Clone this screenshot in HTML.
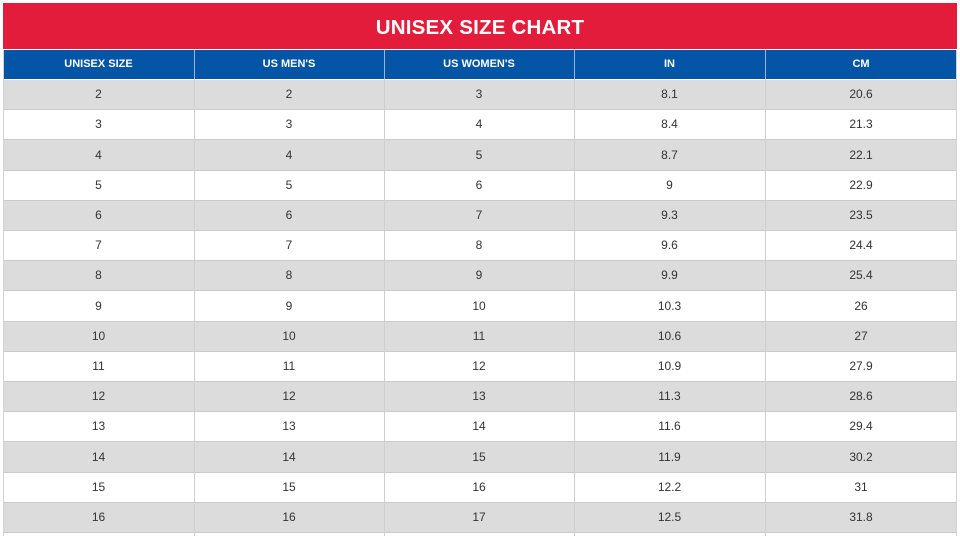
<!DOCTYPE html>
<html><head><meta charset="utf-8"><style>
html,body{margin:0;padding:0;background:#fff;}
body{width:960px;height:536px;position:relative;overflow:hidden;font-family:"Liberation Sans",Arial,sans-serif;}
.title{position:absolute;left:3px;top:3px;width:954px;height:46px;background:#e31c3b;color:#fff;font-weight:bold;font-size:20.5px;line-height:50px;text-align:center;letter-spacing:0.2px;}
.r{position:absolute;left:3px;width:954px;display:flex;box-sizing:border-box;border-bottom:1px solid #cbcbcb;}
.r div{text-align:center;font-size:12px;color:#333;}
.r div:nth-child(1){width:191px}.r div:nth-child(2){width:190px}.r div:nth-child(3){width:190px}.r div:nth-child(4){width:191px}.r div:nth-child(5){width:192px}
.g{background:#dcdcdc;}
.w{background:#fff;}
.h{background:#0455a5;border-bottom:none;top:50px;height:29px;}
.h div{color:#fff !important;font-weight:bold;font-size:11px !important;line-height:29px;}
.vl{position:absolute;top:79px;height:457px;width:1.5px;background:#cfcfcf;}
.vh{position:absolute;top:50px;height:29px;width:1.5px;background:#9bb3d6;}
.el{position:absolute;top:50px;height:486px;width:1px;background:#d3d3d3;}
</style></head><body>
<div class="title">UNISEX SIZE CHART</div>
<div class="r h"><div>UNISEX SIZE</div><div>US MEN'S</div><div>US WOMEN'S</div><div>IN</div><div>CM</div></div>
<div class="r g" style="top:80px;height:30px;line-height:29px"><div>2</div><div>2</div><div>3</div><div>8.1</div><div>20.6</div></div>
<div class="r w" style="top:110px;height:30px;line-height:29px"><div>3</div><div>3</div><div>4</div><div>8.4</div><div>21.3</div></div>
<div class="r g" style="top:140px;height:31px;line-height:30px"><div>4</div><div>4</div><div>5</div><div>8.7</div><div>22.1</div></div>
<div class="r w" style="top:171px;height:30px;line-height:29px"><div>5</div><div>5</div><div>6</div><div>9</div><div>22.9</div></div>
<div class="r g" style="top:201px;height:30px;line-height:29px"><div>6</div><div>6</div><div>7</div><div>9.3</div><div>23.5</div></div>
<div class="r w" style="top:231px;height:30px;line-height:29px"><div>7</div><div>7</div><div>8</div><div>9.6</div><div>24.4</div></div>
<div class="r g" style="top:261px;height:30px;line-height:29px"><div>8</div><div>8</div><div>9</div><div>9.9</div><div>25.4</div></div>
<div class="r w" style="top:291px;height:31px;line-height:30px"><div>9</div><div>9</div><div>10</div><div>10.3</div><div>26</div></div>
<div class="r g" style="top:322px;height:30px;line-height:29px"><div>10</div><div>10</div><div>11</div><div>10.6</div><div>27</div></div>
<div class="r w" style="top:352px;height:30px;line-height:29px"><div>11</div><div>11</div><div>12</div><div>10.9</div><div>27.9</div></div>
<div class="r g" style="top:382px;height:30px;line-height:29px"><div>12</div><div>12</div><div>13</div><div>11.3</div><div>28.6</div></div>
<div class="r w" style="top:412px;height:30px;line-height:29px"><div>13</div><div>13</div><div>14</div><div>11.6</div><div>29.4</div></div>
<div class="r g" style="top:442px;height:31px;line-height:30px"><div>14</div><div>14</div><div>15</div><div>11.9</div><div>30.2</div></div>
<div class="r w" style="top:473px;height:30px;line-height:29px"><div>15</div><div>15</div><div>16</div><div>12.2</div><div>31</div></div>
<div class="r g" style="top:503px;height:30px;line-height:29px"><div>16</div><div>16</div><div>17</div><div>12.5</div><div>31.8</div></div>
<div class="vh" style="left:193.5px"></div><div class="vh" style="left:383.5px"></div><div class="vh" style="left:573.5px"></div><div class="vh" style="left:764.5px"></div>
<div class="vl" style="left:193.5px"></div><div class="vl" style="left:383.5px"></div><div class="vl" style="left:573.5px"></div><div class="vl" style="left:764.5px"></div>
<div class="el" style="left:3px"></div><div class="el" style="left:956px"></div>
</body></html>
